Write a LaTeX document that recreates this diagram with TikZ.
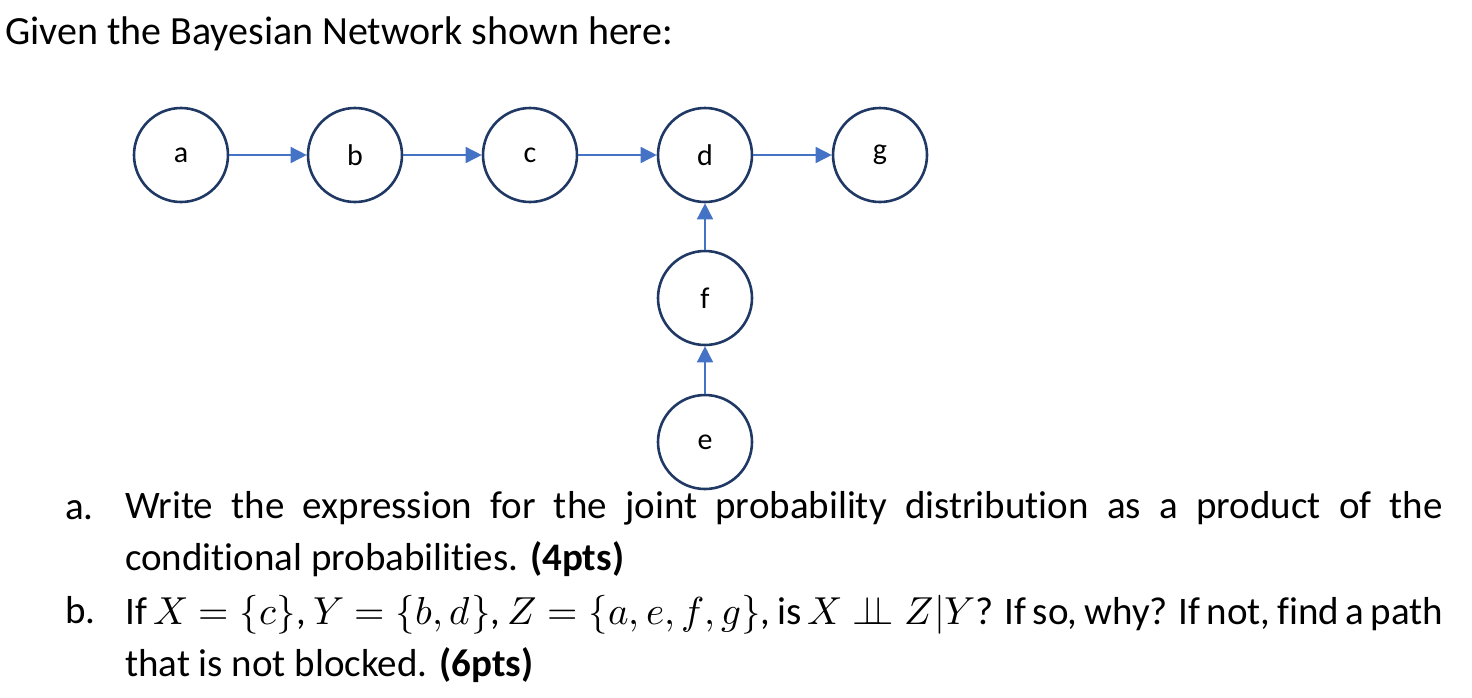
\documentclass[tikz,border=0pt]{standalone}
\usepackage{fontspec}
\usepackage{unicode-math}
\setmathfont{Latin Modern Math}
\setmainfont{Carlito}[Ligatures=NoCommon]
\usetikzlibrary{arrows.meta}
\definecolor{nodeblue}{HTML}{1F3864}
\definecolor{arrblue}{HTML}{4472C4}
\newcommand{\bodyfs}{\fontsize{39}{52}\selectfont}
\begin{document}
\begin{tikzpicture}[x=1pt,y=-1pt,
  bn/.style={circle,draw=nodeblue,line width=2.6pt,minimum size=94pt,inner sep=0pt,font=\fontsize{30}{34}\selectfont},
  arr/.style={draw=arrblue,line width=1.5pt,-{Triangle[length=16pt,width=16pt]}},
  txt/.style={anchor=base west,inner sep=0pt,font=\bodyfs}]
\useasboundingbox (0,0) rectangle (1472,697);
\node[txt,font=\fontsize{40}{52}\selectfont] (title) at (5,44) {Given the Bayesian Network shown here:};
\node[bn] (a) at (181,155) {a};
\node[bn] (b) at (355,155) {b};
\node[bn] (c) at (530,155) {c};
\node[bn] (d) at (705,155) {d};
\node[bn] (g) at (880,155) {g};
\node[bn] (f) at (705,298) {f};
\node[bn] (e) at (705,442) {e};
\draw[arr] (a) -- (b);
\draw[arr] (b) -- (c);
\draw[arr] (c) -- (d);
\draw[arr] (d) -- (g);
\draw[arr] (f) -- (d);
\draw[arr] (e) -- (f);
\node[txt] (la) at (65,519) {a.};
\node[txt,anchor=north west] (pa) at (125,491) {\parbox[t]{1318pt}{\bodyfs Write the expression for the joint probability distribution as a product of the\linebreak conditional probabilities. \textbf{(4pts)}}};
\node[txt] (lb) at (65,623) {b.};
\node[txt,anchor=north west] (pb) at (125,595) {\parbox[t]{1318pt}{\bodyfs If $X=\{c\}$, $Y=\{b,d\}$, $Z=\{a,e,f,g\}$, is $X \perp\!\!\!\perp Z|Y$? If so, why? If not, find a path\linebreak that is not blocked. \textbf{(6pts)}}};
\end{tikzpicture}
\end{document}
